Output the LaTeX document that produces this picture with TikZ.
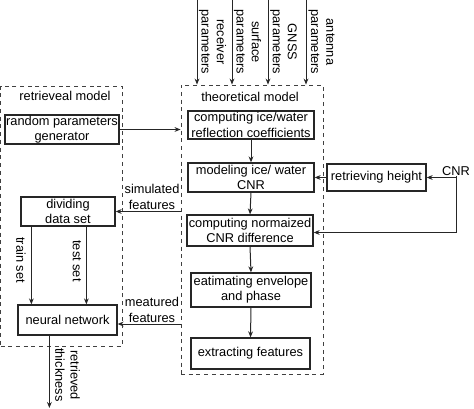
\documentclass[tikz,border=0pt]{standalone}
\usepackage{fontspec}
\setmainfont{Liberation Sans}
\usetikzlibrary{arrows.meta}
\begin{document}
\begin{tikzpicture}[x=0.75pt,y=-0.75pt,
  font=\fontsize{9.6}{11.4}\selectfont,
  box/.style={draw=black!85,line width=0.95pt,inner sep=0pt,align=center},
  dbox/.style={draw=black!75,line width=0.65pt,dash pattern=on 3pt off 2.8pt,inner sep=0pt},
  arr/.style={draw=black!85,line width=0.75pt,-{Stealth[length=4.5pt,width=3.6pt]}},
  lbl/.style={inner sep=0pt,align=center},
  vlbl/.style={inner sep=0pt,align=center,rotate=-90}]
\useasboundingbox (0,0) rectangle (474,409);
% dashed containers
\node[dbox,minimum width=91.1pt,minimum height=195pt] (lm) at (61.25,216) {};
\node[dbox,minimum width=106.5pt,minimum height=216.75pt] (th) at (252,229.5) {};
\node[lbl] (lmt) at (65,96) {retrieveal model};
\node[lbl] (tht) at (250,97) {theoretical model};
% left boxes
\node[box,minimum width=85.5pt,minimum height=21.75pt] (rpg) at (62,129.5) {random parameters\\generator};
\node[box,minimum width=70.5pt,minimum height=21.75pt] (dds) at (68,211.5) {dividing\\data set};
\node[box,minimum width=74.25pt,minimum height=22.5pt] (nn) at (67.5,320) {neural network};
% theoretical boxes
\node[box,minimum width=94.5pt,minimum height=21pt] (b1) at (251,125) {computing ice/water\\reflection coefficients};
\node[box,minimum width=94.5pt,minimum height=21.75pt] (b2) at (251,177.5) {modeling ice/ water\\CNR};
\node[box,minimum width=94.5pt,minimum height=23.25pt] (b3) at (250,230.5) {computing normaized\\CNR difference};
\node[box,minimum width=90pt,minimum height=25.5pt] (b4) at (251,290) {eatimating envelope\\and phase};
\node[box,minimum width=89.25pt,minimum height=23.25pt] (b5) at (250.5,353.5) {extracting features};
\node[box,minimum width=74.25pt,minimum height=20.25pt] (rh) at (376.5,177.5) {retrieving height};
\node[lbl] (cnr) at (456,171) {CNR};
% top parameter inputs
\foreach \i/\x/\t in {1/197/{receiver\\parameters},2/232/{surface\\parameters},3/268/{GNSS\\parameters},4/306/{antenna\\parameters}}{
  \coordinate (p\i) at (\x,0);
  \draw[arr] (p\i) -- (p\i |- th.north);
  \node[vlbl] (pl\i) at (\x+15.5,42) {\t};
}
% theoretical chain
\draw[arr] (b1.south) -- (b2.north);
\draw[arr] (b2.south) -- (b3.north);
\draw[arr] (b3.south) -- (b4.north);
\draw[arr] (b4.south) -- (b5.north);
\draw[arr] (rh.west) -- (b2.east);
\coordinate (cnrc) at (cnr.south |- rh.east);
\draw[arr] (cnrc) -- (rh.east);
\draw[arr] (cnr.south) |- ([yshift=-1.5pt]b3.east);
% links between models
\draw[arr] (rpg.east) -- (rpg.east -| th.west);
\draw[arr] (dds.east -| th.west) -- (dds.east);
\node[lbl] (simf) at (152,197) {simulated\\features};
\coordinate (nne) at ([yshift=-3pt]nn.east);
\draw[arr] (nne -| th.west) -- (nne);
\node[lbl] (meaf) at (152,310) {meatured\\features};
% retrieval chain
\path (dds.south west) ++(11,0) coordinate (tra);
\path (dds.south west) ++(66,0) coordinate (tea);
\draw[arr] (tra) -- (tra |- nn.north);
\draw[arr] (tea) -- (tea |- nn.north);
\node[vlbl] (trl) at (21,260) {train set};
\node[vlbl] (tel) at (77,261) {test set};
\path (nn.south west) ++(32,0) coordinate (nno);
\coordinate (out) at (50,408);
\draw[arr] (nno) -- (nno |- out);
\node[vlbl] (outl) at (67.5,375) {retrieved\\thickness};
\end{tikzpicture}
\end{document}
